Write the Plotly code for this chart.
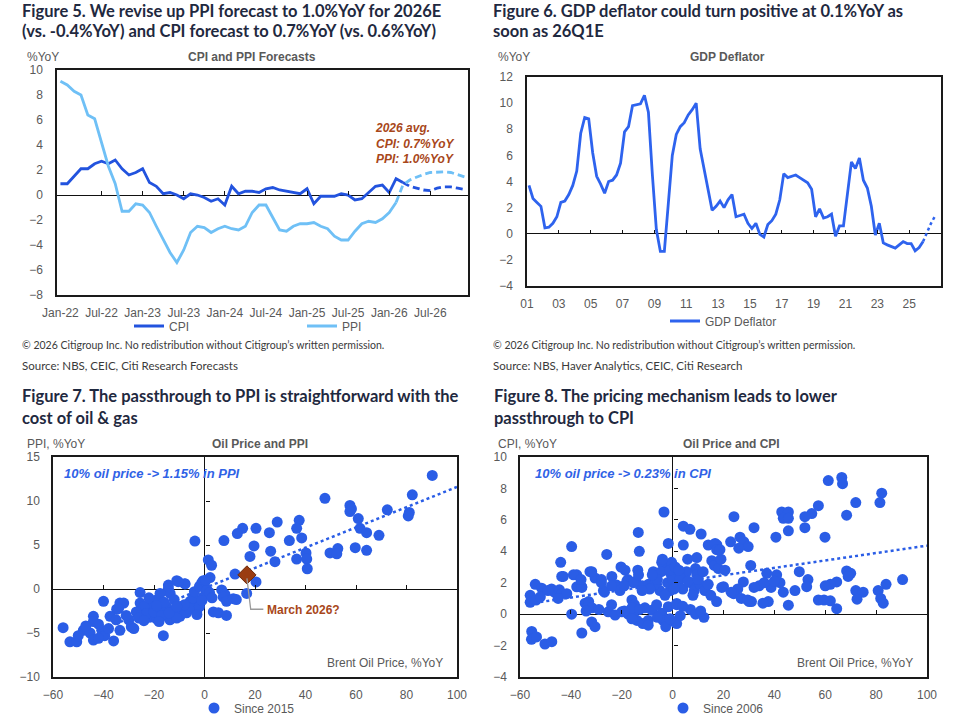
import plotly.graph_objects as go

W, H = 967, 720

# ---------------- Figure 5: CPI and PPI forecasts (monthly, Jan-22 .. Dec-26) ----------------
fig5_tick_text = ["Jan-22", "Jul-22", "Jan-23", "Jul-23", "Jan-24", "Jul-24",
                  "Jan-25", "Jul-25", "Jan-26", "Jul-26"]
cpi_actual = [0.9, 0.9, 1.5, 2.1, 2.1, 2.5, 2.7, 2.5, 2.8, 2.1, 1.6, 1.8,
              2.1, 1.0, 0.7, 0.1, 0.2, 0.0, -0.3, 0.1, 0.0, -0.2, -0.5, -0.3,
              -0.8, 0.7, 0.1, 0.3, 0.3, 0.2, 0.5, 0.6, 0.4, 0.3, 0.2, 0.1,
              0.5, -0.7, -0.1, -0.1, -0.1, 0.1, 0.0, -0.4, -0.3, 0.2, 0.7, 0.8,
              0.2, 1.3, 1.0]
ppi_actual = [9.1, 8.8, 8.3, 8.0, 6.4, 6.1, 4.2, 2.3, 0.9, -1.3, -1.3, -0.7,
              -0.8, -1.4, -2.5, -3.6, -4.6, -5.4, -4.4, -3.0, -2.5, -2.6, -3.0, -2.7,
              -2.5, -2.7, -2.8, -2.5, -1.4, -0.8, -0.8, -1.8, -2.8, -2.9, -2.5, -2.3,
              -2.3, -2.2, -2.5, -2.7, -3.3, -3.6, -3.6, -2.9, -2.3, -2.1, -2.2, -1.9,
              -1.4, -0.6]
cpi_forecast = [1.0, 0.7, 0.55, 0.4, 0.35, 0.55, 0.65, 0.65, 0.55, 0.45]
ppi_forecast = [-0.6, 0.8, 1.2, 1.45, 1.65, 1.8, 1.85, 1.85, 1.8, 1.65, 1.45]

# ---------------- Figure 6: GDP deflator (quarterly, 2001Q1 .. 2025Q4) ----------------
gdp_first_year = 2001
gdp_deflator = [3.7, 2.7, 2.4, 2.1,
                0.45, 0.5, 0.8, 1.3,
                2.4, 2.5, 3.0, 3.7,
                4.8, 7.7, 8.9, 8.8,
                6.2, 4.4, 3.8, 3.1,
                4.0, 4.1, 4.5, 5.4,
                7.8, 8.2, 9.8, 9.85,
                9.95, 10.6, 9.3, 4.5,
                0.3, -1.35, -1.35, 2.3,
                6.0, 7.6, 8.2, 8.5,
                9.1, 9.5, 10.0, 6.5,
                4.9, 3.3, 1.8, 2.1,
                2.5, 2.0, 2.6, 3.0,
                1.3, 1.4, 1.5, 0.8,
                0.4, 0.8, -0.05, -0.25,
                0.7, 1.0, 1.5, 2.6,
                4.6, 4.3, 4.4, 4.5,
                4.3, 4.1, 3.9, 3.4,
                1.3, 1.9, 1.2, 1.3,
                1.5, -0.2, 0.6, 0.6,
                3.0, 5.5, 5.0, 5.8,
                4.1, 3.5, 2.1, -0.1,
                0.8, -0.7, -0.85, -0.95,
                -1.1, -0.85, -0.6, -0.75,
                -0.75, -1.3, -1.05, -0.6]
gdp_deflator_forecast = [0.1, 0.8, 1.35]      # 26Q1E .. 26Q3E
fig6_tick_years = list(range(2001, 2026, 2))

# ---------------- Figure 7: Oil price vs PPI (since 2015) ----------------
ppi_points = [
    (-3.8, 5.45), (-1.1, 0.7), (-11, 0.95), (-7.7, 0.57), (-14.3, 0.45), (-14.3, 0.06), (-13.6, -0.5),
    (-25.5, -0.4), (-40, -1.4), (-33.5, -1.6), (-34.8, -2.3), (-37.4, -3.1), (-44, -3.1), (-44, -3.7),
    (-48, -4.7), (-56, -4.4), (-53.3, -6.0), (-50.6, -6.0), (-45.3, -5.0), (-44, -5.8), (-40.7, -4.7),
    (-39.5, -5.3), (-36, -5.9), (-16.3, -5.3), (-30, -3.5), (-33.5, -4.7), (-29, -4.3), (-25.5, -2.8),
    (-25.5, -1.6), (-21.6, -2.0), (-19, -1.25), (-18, -2.4), (-21.6, -3.2), (-19, -3.4), (-15.6, -3.0),
    (-15, -2.0), (-13.7, -3.5), (-9.7, -3.1), (-9.7, -2.0), (-7.1, -2.7), (-5.7, -1.4), (-3.1, -1.6),
    (-3.1, -2.6), (-0.5, -0.9), (-0.5, 0.25), (-17.6, -0.5), (-24, -2.0), (-32, -1.6), (-34, -2.2),
    (-28, -4.5), (-4.5, -1.0), (-7.8, 0.6), (-10.4, 0.83), (-0.5, 0.95), (-47, -4.2), (-42, -4.0),
    (-38, -4.5), (-31, -3.0), (-27, -2.6), (-23, -2.8), (-20, -2.6), (-17, -3.0), (-12, -2.5),
    (-11, -3.3), (-6, -2.2), (-2, -2.0), (-1, -1.3), (-16, -1.5), (-22, -1.0), (-12, -1.2),
    (-8, -1.8), (-26, -3.3), (-19, -1.9), (-14, -2.7), (-4, -0.3), (-2, 0.3), (-50, -5.3),
    (-42, -5.6), (-35, -3.5), (-3, -2.9), (-24, -3.6), (-18, -3.7), (-11, -2.0),
    (90.2, 12.9), (82.3, 10.7), (81.1, 8.7), (80.7, 8.3), (72.4, 9.0), (47.7, 10.3), (57.6, 9.5),
    (58.2, 9.1), (57.6, 8.8), (60.9, 8.0), (61.6, 6.9), (64.2, 6.4), (69.1, 6.1), (59.7, 4.7),
    (64.2, 4.4), (49.7, 4.1), (52.8, 4.6), (52.4, 4.0), (28.8, 7.6), (37.5, 7.8), (36.5, 6.9),
    (38.5, 5.8), (33.6, 5.5), (25.7, 6.4), (20.4, 6.9), (15.1, 6.9), (13.0, 6.3), (7.7, 5.5),
    (19.6, 4.9), (18.0, 3.7), (26.2, 4.3), (27.9, 3.1), (36.5, 3.4), (40.2, 4.1), (40.5, 3.4),
    (40.7, 2.3), (1.5, 3.3), (2.8, 2.7), (12.1, 1.7), (20.4, 0.8), (16.7, -0.5), (2.2, 1.3),
    (0.2, 0.8), (6.8, -0.1), (8.1, -0.6), (7.4, -0.9), (8.7, -1.4), (11.4, -1.1), (12.6, -1.2),
    (3.5, -2.6), (5.5, -2.7), (8.7, -3.0), (1.0, -0.1), (0.5, 1.0), (2.0, -0.4), (3.0, -1.0),
]
ppi_trend_slope = 0.115
ppi_trend_intercept = 0.1
ppi_trend_x = [-40, 100]
march_2026_oil = 16.8
march_2026_ppi = 1.6

# ---------------- Figure 8: Oil price vs CPI (since 2006) ----------------
cpi_points = [
    (61.2, 8.5), (66.5, 8.7), (66.8, 8.3), (82.2, 7.7), (81.5, 7.1), (72, 7.1), (68.4, 6.3),
    (57.3, 6.9), (54.7, 6.4), (52, 6.2), (42.9, 6.5), (45.5, 6.5), (43.5, 6.1), (45.5, 6.1),
    (52, 5.5), (45.5, 5.3), (40.6, 4.9), (59.9, 4.9), (24.1, 6.2), (32, 5.5), (26.5, 4.9),
    (28, 4.6), (29.7, 4.3), (22.8, 4.6), (4.2, 5.6), (6.8, 5.4), (11.2, 5.1), (4.2, 4.4),
    (14, 4.4), (17.4, 4.4), (-3.4, 6.5), (-1.7, 4.5), (-13.5, 5.2), (-13.1, 4.0), (-39.7, 4.3),
    (-44, 3.3), (-43.6, 2.4), (-25.9, 3.8), (-37.7, 2.5), (-32.5, 2.7), (-30.5, 2.3), (-28, 2.2),
    (-23.9, 2.4), (-20.3, 3.0), (-18.7, 2.8), (-13.7, 2.8), (-7.6, 2.7), (-4.3, 3.3), (-3.3, 3.0),
    (-2.3, 2.8), (-0.4, 3.3), (5.9, 3.5), (9.5, 3.6), (5.1, 2.6), (9, 2.9), (16.7, 4.5),
    (17.3, 4.1), (15.4, 3.4), (16.4, 3.1), (18, 2.9), (19.3, 1.7), (17.3, 0.8),
    (-54, 1.9), (-51.5, 1.65), (-47.6, 1.6), (-46.5, 1.4), (-44.5, 1.55), (-43.6, 1.3), (-41.6, 1.3),
    (-56, 1.2), (-56, 0.75), (-53.7, 0.9), (-37.7, 1.74), (-35.7, 1.74), (-34.4, 0.7), (-33.3, 0.5),
    (-39.7, 0.0), (-31.8, -0.5), (-30.5, -0.8), (-35.7, -1.2), (-26.8, 1.4), (-25.3, 0.15), (-22.6, -0.06),
    (-22, 1.85), (-20.7, 1.5), (-20, 0.15), (-17.5, 0.0), (-16, 0.9), (-15, 0.6), (-15.5, -0.1),
    (-14, -0.4), (-17.6, 2.2), (-14.5, 2.1), (-12, 1.8), (-9.5, 1.9), (-7, 1.8), (-5, 1.5),
    (-11.7, -0.6), (-9.6, -0.4), (-8.2, 0.25), (-6.3, 0.6), (-4.3, 0.06), (-3.7, -0.4), (-2.7, -0.8),
    (-1.7, 0.47), (0.9, -0.5), (1.6, 0.68),
    (-55.4, -1.1), (-55.5, -1.6), (-53.5, -1.45), (-50.2, -1.9), (-47.5, -1.75),
    (-43, 2.4), (-35.7, 1.7), (-33, 0.8), (-31.7, 0.4), (-31.8, 2.7), (-27.2, 1.5), (-21.3, 1.7),
    (-18, 2.1), (-15.4, 2.0), (-13.4, 2.5), (-16, 0.4), (-16, -0.3), (-10.9, 0.4), (-9.6, -0.7),
    (-7, 1.9), (-4.5, 2.7), (-4, 3.5), (-0.5, 2.5), (-1, 1.5), (1.6, -0.6), (1.6, 0.6),
    (5.5, 2.7), (7, 2.0), (8.5, 1.5), (9.5, 2.5), (10.7, 1.9), (12.7, 1.5), (12.3, -0.2),
    (90.4, 2.2), (83.9, 1.9), (80.8, 1.5), (81.8, 1.0), (82.8, 0.7), (72, 1.5), (74.9, 1.4),
    (72.5, 0.95), (68.4, 2.75), (70, 2.6), (69, 2.4), (64.5, 2.05), (62, 1.9), (60, 1.8),
    (64.5, 0.35), (57.3, 0.9), (59.5, 0.9), (62, 0.85), (53.2, 2.2), (52.7, 1.75), (49.8, 2.7),
    (48.1, 1.5), (45.5, 0.57), (43.5, 1.4), (42.2, 2.0), (40.9, 2.5), (37, 2.6), (38.7, 1.7),
    (37.6, 0.8), (34, 1.8), (32, 1.7), (31, 0.8), (30.7, 3.1), (27.8, 2.05), (25.6, 1.6),
    (24, 1.3), (27, 1.0), (30.1, 0.8), (20.6, 2.8), (20, 1.75), (29.5, 0.9), (35.5, 0.7),
    (36, 2.0), (40, 2.1), (26, 4.2), (19, 3.5), (23, 1.4), (18.6, 4.1),
    (-2, 2.0), (0, 2.2), (2, 1.9), (3, 2.3), (-1, 2.8), (1, 3.0), (4, 1.6), (6, 2.1),
    (8, 1.2), (10, 2.2), (12, 2.7), (14, 1.9), (-6, 2.2), (-9, 1.6), (-3, 1.2), (0.5, 1.6),
    (2.5, 2.8), (15, 1.2), (-12, 1.5), (-19, 1.8), (-24, 1.8), (-28, 2.0), (-45, 1.0), (-49, 1.5),
    (-52, 1.1), (-39, 2.5), (-36, 2.2), (7, 0.3), (9, 0.0), (11, 0.2), (4, 0.5), (-6, -0.2),
    (-13, 0.3), (-19, 0.2), (-24, 0.6), (-29, 0.3), (-34, 0.2), (-1, -0.3), (3, -0.1), (-8, 2.5),
]
cpi_trend_slope = 0.0236
cpi_trend_intercept = 2.0
cpi_trend_x = [-52, 100]

# ---------------- styling ----------------
CPI_BLUE = "#2253de"
PPI_LIGHT = "#6fc0f6"
GDP_BLUE = "#2e63ee"
DOT_BLUE = "#2a5de6"
BROWN = "#a8471a"
GREY = "#595959"
TITLE_COL = "#1f2940"
AXIS_FONT = dict(family="Liberation Sans, Arial, sans-serif", size=12, color=GREY)
TITLE_FONT = dict(family="Lato, sans-serif", size=16.5, color=TITLE_COL, weight=700)
FOOT_FONT = dict(family="Lato, sans-serif", size=10.5, color="#3a3a3a")


def px(x):
    return x / W


def py(y):
    return 1 - y / H


def zero_pos(domain, rng):
    return domain[0] + (0 - rng[0]) / (rng[1] - rng[0]) * (domain[1] - domain[0])


D1x, D1y = [px(57), px(468)], [py(295), py(70)]
D2x, D2y = [px(527), px(941)], [py(286), py(77)]
D3x, D3y = [px(53), px(457)], [py(677), py(457)]
D4x, D4y = [px(520), px(927)], [py(677), py(457)]
R1x, R1y = [-0.5, 59.5], [-8, 10]
R2x, R2y = [2001, 2027], [-4, 12]
R3x, R3y = [-60, 100], [-10, 15]
R4x, R4y = [-60, 100], [-4, 10]

fig = go.Figure()

# ---- Figure 5 traces ----
fig.add_trace(go.Scatter(x=list(range(len(cpi_actual))), y=cpi_actual, mode="lines", name="CPI",
                         line=dict(color=CPI_BLUE, width=2.8), xaxis="x", yaxis="y", legend="legend"))
fig.add_trace(go.Scatter(x=list(range(len(ppi_actual))), y=ppi_actual, mode="lines", name="PPI",
                         line=dict(color=PPI_LIGHT, width=2.8), xaxis="x", yaxis="y", legend="legend"))
cpi_f_start = len(cpi_actual) - 1
fig.add_trace(go.Scatter(x=list(range(cpi_f_start, cpi_f_start + len(cpi_forecast))), y=cpi_forecast,
                         mode="lines", showlegend=False,
                         line=dict(color=CPI_BLUE, width=2.8, dash="7px,4px"), xaxis="x", yaxis="y"))
ppi_f_start = len(ppi_actual) - 1
fig.add_trace(go.Scatter(x=list(range(ppi_f_start, ppi_f_start + len(ppi_forecast))), y=ppi_forecast,
                         mode="lines", showlegend=False,
                         line=dict(color=PPI_LIGHT, width=2.8, dash="7px,4px"), xaxis="x", yaxis="y"))

# ---- Figure 6 traces ----
gdp_t = [gdp_first_year + i / 4 + 0.125 for i in range(len(gdp_deflator))]
fig.add_trace(go.Scatter(x=gdp_t, y=gdp_deflator, mode="lines", name="GDP Deflator",
                         line=dict(color=GDP_BLUE, width=2.8), xaxis="x2", yaxis="y2", legend="legend2"))
n0 = len(gdp_deflator) - 1
gdp_tf = [gdp_first_year + i / 4 + 0.125 for i in range(n0, n0 + 1 + len(gdp_deflator_forecast))]
fig.add_trace(go.Scatter(x=gdp_tf, y=[gdp_deflator[-1]] + gdp_deflator_forecast, mode="lines",
                         showlegend=False, line=dict(color=GDP_BLUE, width=2.5, dash="dot"),
                         xaxis="x2", yaxis="y2"))

# ---- Figure 7 traces ----
fig.add_trace(go.Scatter(x=ppi_trend_x, y=[ppi_trend_intercept + ppi_trend_slope * v for v in ppi_trend_x],
                         mode="lines", showlegend=False, line=dict(color=DOT_BLUE, width=2.5, dash="dot"),
                         xaxis="x3", yaxis="y3"))
fig.add_trace(go.Scatter(x=[p[0] for p in ppi_points], y=[p[1] for p in ppi_points], mode="markers",
                         name="Since 2015", marker=dict(color=DOT_BLUE, size=11),
                         xaxis="x3", yaxis="y3", legend="legend3"))
fig.add_trace(go.Scatter(x=[march_2026_oil], y=[march_2026_ppi], mode="markers", showlegend=False,
                         marker=dict(symbol="diamond", color="#9a3d12", size=14,
                                     line=dict(color="#6e2a0a", width=1)),
                         xaxis="x3", yaxis="y3"))

# ---- Figure 8 traces ----
fig.add_trace(go.Scatter(x=cpi_trend_x, y=[cpi_trend_intercept + cpi_trend_slope * v for v in cpi_trend_x],
                         mode="lines", showlegend=False, line=dict(color=DOT_BLUE, width=2.5, dash="dot"),
                         xaxis="x4", yaxis="y4"))
fig.add_trace(go.Scatter(x=[p[0] for p in cpi_points], y=[p[1] for p in cpi_points], mode="markers",
                         name="Since 2006", marker=dict(color=DOT_BLUE, size=11),
                         xaxis="x4", yaxis="y4", legend="legend4"))

# invisible traces so the zero-line tick axes are drawn
for xa, ya in [("x5", "y"), ("x6", "y2"), ("x7", "y3"), ("x3", "y7"), ("x8", "y4"), ("x4", "y8")]:
    fig.add_trace(go.Scatter(x=[], y=[], xaxis=xa, yaxis=ya, showlegend=False, hoverinfo="skip"))


def box_axis(domain, rng, anchor, standoff, **kw):
    d = dict(domain=domain, range=rng, anchor=anchor, showline=True, mirror=True,
             linecolor="#1a1a1a", linewidth=1.5, showgrid=False, zeroline=False,
             ticks="outside", ticklen=standoff, tickcolor="rgba(0,0,0,0)",
             tickfont=AXIS_FONT, fixedrange=True, automargin=False)
    d.update(kw)
    return d


def tick_axis(domain, rng, overlay, pos, vals, side):
    return dict(domain=domain, range=rng, overlaying=overlay, anchor="free", position=pos,
                side=side, showline=False, showgrid=False, zeroline=False, ticks="inside",
                ticklen=4, tickwidth=1, tickcolor="#111", tickvals=vals, showticklabels=False,
                automargin=False)


layout_axes = dict(
    xaxis=box_axis(D1x, R1x, "y", 6, tickvals=list(range(0, 60, 6)), ticktext=fig5_tick_text),
    yaxis=box_axis(D1y, R1y, "x", 10, dtick=2, zeroline=True, zerolinecolor="#111", zerolinewidth=1.2),
    xaxis2=box_axis(D2x, R2x, "y2", 6, tickvals=fig6_tick_years,
                    ticktext=["%02d" % (yr % 100) for yr in fig6_tick_years]),
    yaxis2=box_axis(D2y, R2y, "x2", 10, dtick=2, zeroline=True, zerolinecolor="#111", zerolinewidth=1.2),
    xaxis3=box_axis(D3x, R3x, "y3", 6, dtick=20, zeroline=True, zerolinecolor="#111", zerolinewidth=1.2),
    yaxis3=box_axis(D3y, R3y, "x3", 9, dtick=5, zeroline=True, zerolinecolor="#111", zerolinewidth=1.2),
    xaxis4=box_axis(D4x, R4x, "y4", 6, dtick=20, zeroline=True, zerolinecolor="#111", zerolinewidth=1.2),
    yaxis4=box_axis(D4y, R4y, "x4", 9, dtick=2, zeroline=True, zerolinecolor="#111", zerolinewidth=1.2),
    xaxis5=tick_axis(D1x, R1x, "x", zero_pos(D1y, R1y), list(range(6, 60, 6)), "bottom"),
    xaxis6=tick_axis(D2x, R2x, "x2", zero_pos(D2y, R2y), fig6_tick_years[1:], "bottom"),
    xaxis7=tick_axis(D3x, R3x, "x3", zero_pos(D3y, R3y), [-40, -20, 20, 40, 60, 80], "bottom"),
    yaxis7=tick_axis(D3y, R3y, "y3", zero_pos(D3x, R3x), [-5, 5, 10], "left"),
    xaxis8=tick_axis(D4x, R4x, "x4", zero_pos(D4y, R4y), [-40, -20, 20, 40, 60, 80], "bottom"),
    yaxis8=tick_axis(D4y, R4y, "y4", zero_pos(D4x, R4x), [-2, 2, 4, 6, 8], "left"),
)


def leg(x, y, entrywidth=None):
    d = dict(x=px(x), y=py(y), xanchor="left", yanchor="middle", orientation="h",
             bgcolor="rgba(0,0,0,0)", font=dict(family="Liberation Sans, Arial, sans-serif", size=12, color=GREY),
             itemclick=False, itemdoubleclick=False, tracegroupgap=0, itemwidth=30)
    if entrywidth:
        d.update(entrywidth=entrywidth, entrywidthmode="pixels")
    return d


annotations = []


def note(text, x, y, font, xanchor="left", yanchor="middle", xref="paper", yref="paper"):
    annotations.append(dict(text=text, x=x, y=y, xref=xref, yref=yref, xanchor=xanchor, yanchor=yanchor,
                            showarrow=False, font=font, align="left"))


# figure titles
note("Figure 5. We revise up PPI forecast to 1.0%YoY for 2026E", px(20), py(11), TITLE_FONT)
note("(vs. -0.4%YoY) and CPI forecast to 0.7%YoY (vs. 0.6%YoY)", px(20), py(31), TITLE_FONT)
note("Figure 6. GDP deflator could turn positive at 0.1%YoY as", px(491), py(11), TITLE_FONT)
note("soon as 26Q1E", px(491), py(31), TITLE_FONT)
note("Figure 7. The passthrough to PPI is straightforward with the", px(20), py(396), TITLE_FONT)
note("cost of oil &amp; gas", px(20), py(418), TITLE_FONT)
note("Figure 8. The pricing mechanism leads to lower", px(492), py(396), TITLE_FONT)
note("passthrough to CPI", px(492), py(418), TITLE_FONT)

# chart titles
CT_FONT = dict(family="Liberation Sans, Arial, sans-serif", size=12, color=GREY, weight=700)
note("CPI and PPI Forecasts", px(252), py(57), CT_FONT, xanchor="center")
note("GDP Deflator", px(727), py(57), CT_FONT, xanchor="center")
note("Oil Price and PPI", px(260), py(444), CT_FONT, xanchor="center")
note("Oil Price and CPI", px(731), py(444), CT_FONT, xanchor="center")

# axis unit labels
note("%YoY", px(25), py(57), AXIS_FONT)
note("%YoY", px(496), py(57), AXIS_FONT)
note("PPI, %YoY", px(25), py(444), AXIS_FONT)
note("CPI, %YoY", px(496), py(444), AXIS_FONT)
note("Brent Oil Price, %YoY", px(445), py(663), AXIS_FONT, xanchor="right")
note("Brent Oil Price, %YoY", px(915), py(663), AXIS_FONT, xanchor="right")

# footers
note("© 2026 Citigroup Inc. No redistribution without Citigroup’s written permission.", px(20), py(345), FOOT_FONT)
note("Source: NBS, CEIC, Citi Research Forecasts", px(20), py(365), dict(FOOT_FONT, size=11.5))
note("© 2026 Citigroup Inc. No redistribution without Citigroup’s written permission.", px(491), py(345), FOOT_FONT)
note("Source: NBS, Haver Analytics, CEIC, Citi Research", px(491), py(365), dict(FOOT_FONT, size=11.5))

# in-chart call-outs
ITAL_BROWN = dict(family="Liberation Sans, Arial, sans-serif", size=12, color=BROWN, weight=700, style="italic")
note("2026 avg.<br>CPI: 0.7%YoY<br>PPI: 1.0%YoY", px(373), py(119), ITAL_BROWN, yanchor="top")
ITAL_BLUE = dict(family="Liberation Sans, Arial, sans-serif", size=13, color="#2f62e6", weight=700, style="italic")
note("10% oil price -&gt; 1.15% in PPI", px(62), py(473), ITAL_BLUE)
note("10% oil price -&gt; 0.23% in CPI", px(533), py(473), ITAL_BLUE)
note("March 2026?", march_2026_oil + 7.2, march_2026_ppi - 4.0,
     dict(family="Liberation Sans, Arial, sans-serif", size=12, color=BROWN, weight=700),
     xref="x3", yref="y3")

shapes = [dict(type="path", xref="x3", yref="y3",
               path="M %f %f L %f %f L %f %f" % (march_2026_oil, march_2026_ppi - 0.4,
                                                   march_2026_oil + 1.5, march_2026_ppi - 3.9,
                                                   march_2026_oil + 6.5, march_2026_ppi - 3.9),
               line=dict(color="#9a9a9a", width=1.3))]

fig.update_layout(
    width=W, height=H, margin=dict(l=0, r=0, t=0, b=0, pad=0, autoexpand=False),
    paper_bgcolor="white", plot_bgcolor="rgba(0,0,0,0)",
    showlegend=True,
    legend=leg(129, 326, entrywidth=128),
    legend2=leg(665, 321),
    legend3=leg(194, 708),
    legend4=leg(663, 708),
    annotations=annotations, shapes=shapes,
    **layout_axes,
)

fig.write_html("out.html", config={"displayModeBar": False},
               post_script="document.body.style.margin='0px';document.body.style.padding='0px';")
